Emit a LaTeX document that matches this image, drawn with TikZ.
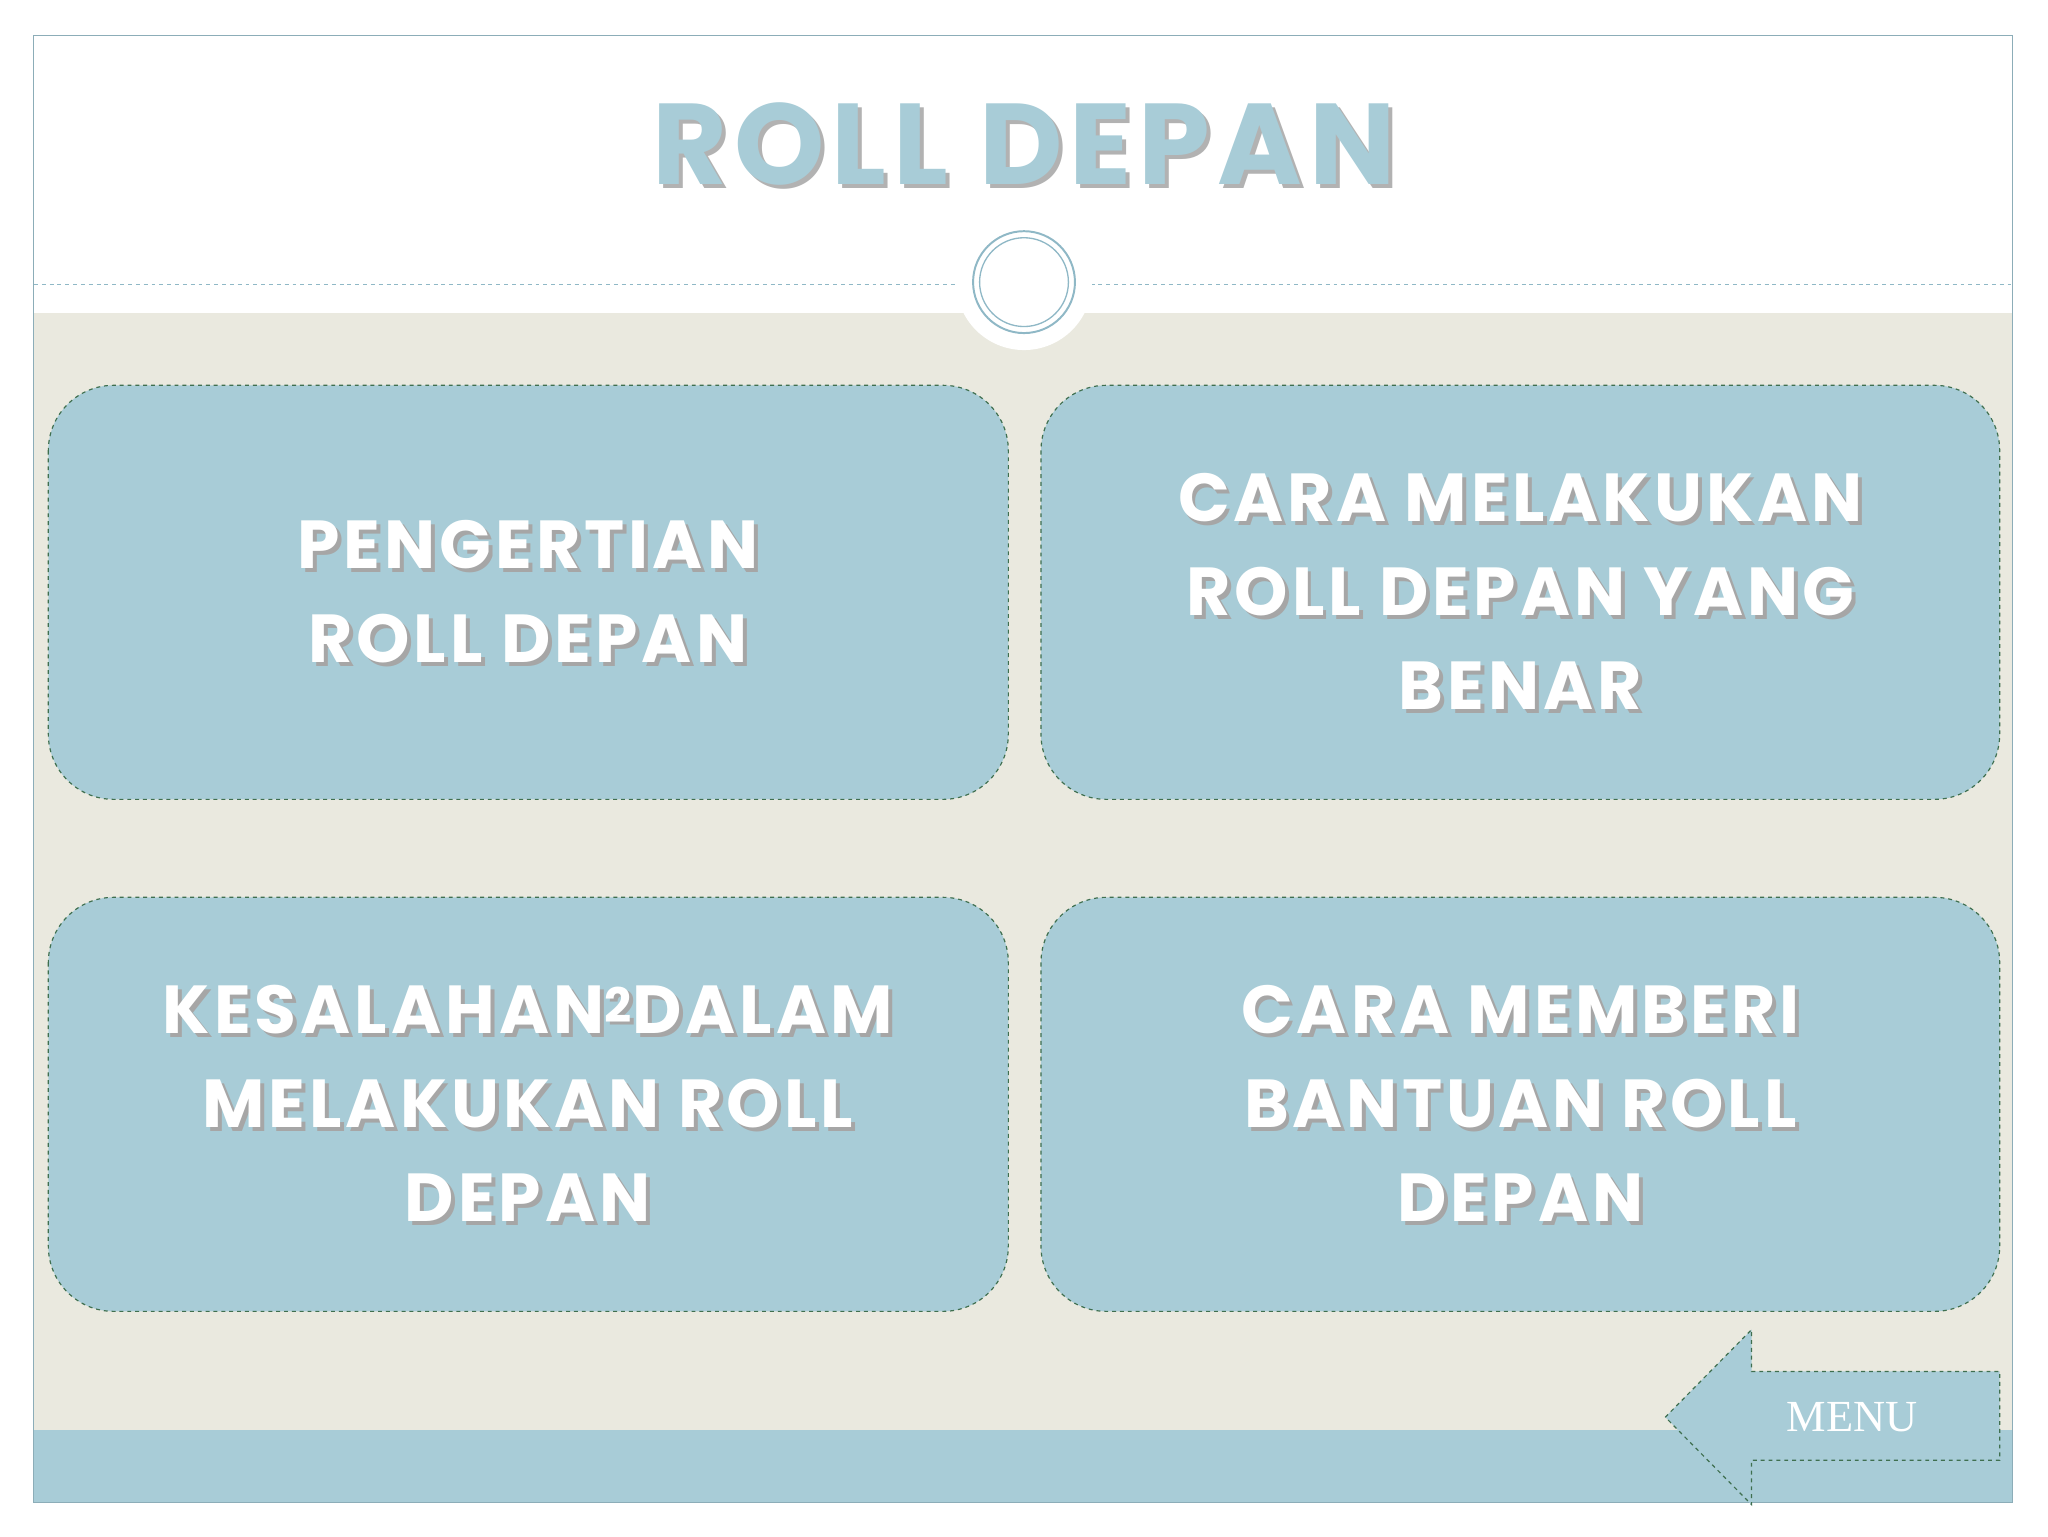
\documentclass[tikz,border=0pt]{standalone}
\usepackage{fontspec}
\setmainfont{Liberation Serif}
\newfontfamily\comic[LetterSpace=6]{Poppins}
\definecolor{lb}{HTML}{A8CCD7}
\definecolor{bg}{HTML}{EAE9DF}
\definecolor{dg}{HTML}{3F6F4F}
\definecolor{ring}{HTML}{8FB8C6}
\tikzset{box/.style={draw=dg,dashed,fill=lb,rounded corners=50pt,line width=0.9pt},
 btxt/.style={text=white,font=\comic\fontsize{52}{72}\selectfont\bfseries,align=center},
 shd/.style={text=black!35,font=\comic\fontsize{52}{72}\selectfont\bfseries,align=center}}
\begin{document}
\begin{tikzpicture}[x=1pt,y=-1pt]
\useasboundingbox (0,0) rectangle (1568,1176);
\fill[white] (0,0) rectangle (1568,1176);
\fill[bg] (26,240) rectangle (1541,1095);
\fill[lb] (26,1095) rectangle (1541,1150);
\draw[ring!80!gray,line width=0.8pt] (26,27) rectangle (1541,1150);
\draw[ring,dashed,line width=0.6pt] (26,218) -- (735,218) (835,218) -- (1541,218);
\fill[white] (784,216) circle (52);
\node[draw=ring,line width=1.5pt,circle,minimum size=78pt,fill=white] (c) at (784,216) {};
\draw[ring,line width=1pt] (784,216) circle (34);
\node[text=black!30,font=\comic\fontsize{88}{90}\selectfont\bfseries] at (787,113) {ROLL DEPAN};
\node[text=lb,font=\comic\fontsize{88}{90}\selectfont\bfseries] (t) at (784,110) {ROLL DEPAN};
\draw[box] (37,295) rectangle (772,612);
\draw[box] (797,295) rectangle (1531,612);
\draw[box] (37,687) rectangle (772,1004);
\draw[box] (797,687) rectangle (1531,1004);
\foreach \x/\y/\t in {404/453/{PENGERTIAN\\ROLL DEPAN},1164/453/{CARA MELAKUKAN\\ROLL DEPAN YANG\\BENAR},404/845/{KESALAHAN\textsuperscript{2}DALAM\\MELAKUKAN ROLL\\DEPAN},1164/845/{CARA MEMBERI\\BANTUAN ROLL\\DEPAN}}{
 \node[shd] at (\x+3,\y+3) {\t};
 \node[btxt] at (\x,\y) {\t};}
\draw[draw=dg,dashed,fill=lb,line width=0.9pt] (1275,1085) -- (1341,1018) -- (1341,1050) -- (1531,1050) -- (1531,1118) -- (1341,1118) -- (1341,1152) -- cycle;
\node[text=white,font=\fontsize{34}{36}\selectfont] (m) at (1418,1085) {MENU};
\end{tikzpicture}
\end{document}
